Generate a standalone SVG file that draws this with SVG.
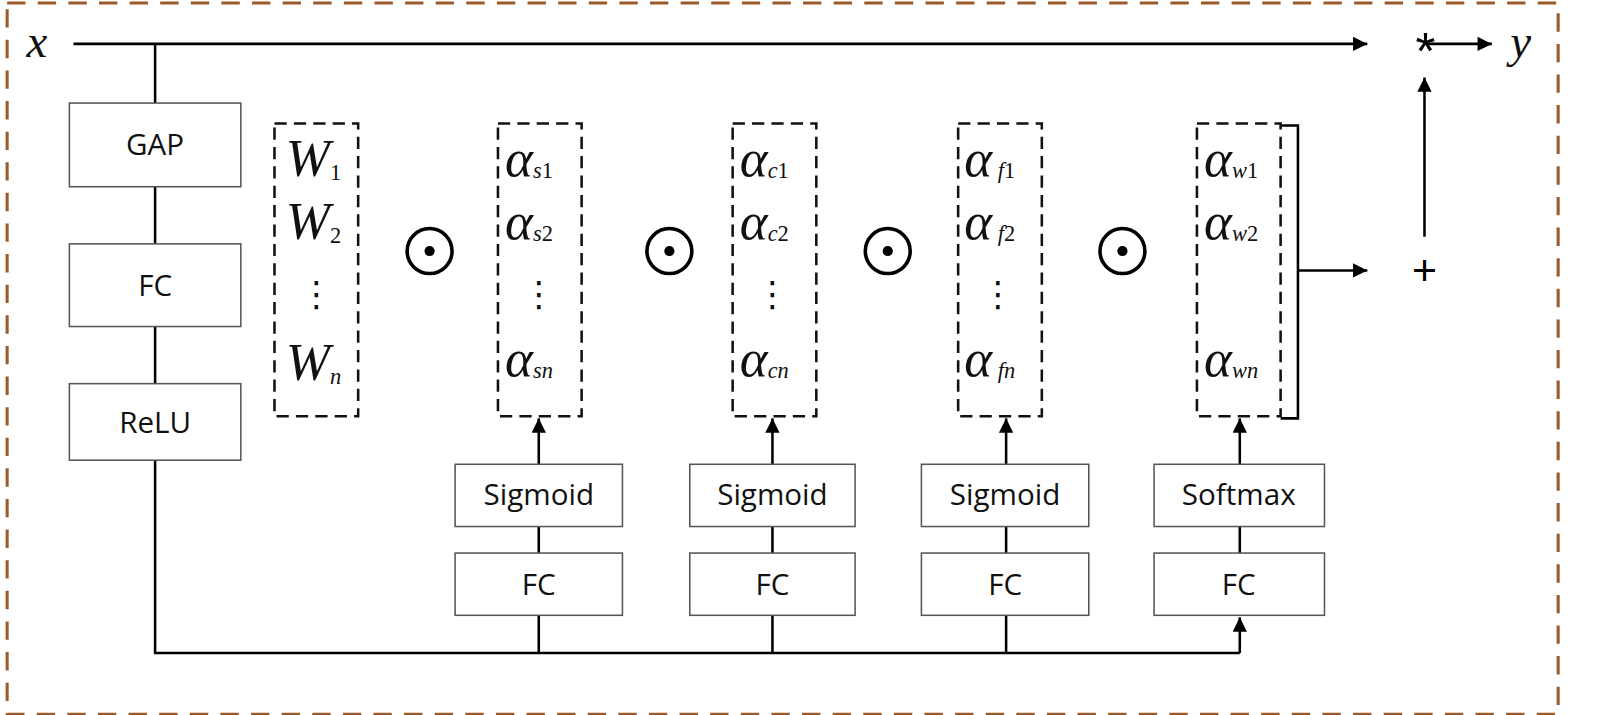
<svg xmlns="http://www.w3.org/2000/svg" width="1600" height="715" viewBox="0 0 1600 715">
<style>
.b{fill:#fff;stroke:#555;stroke-width:1.5}
.d{fill:none;stroke:#111;stroke-width:2.5;stroke-dasharray:12 7}
.l{fill:none;stroke:#000;stroke-width:2.5}
.t{font-family:"Open Sans","Liberation Sans",sans-serif;font-size:29px;text-anchor:middle;fill:#111}
.m{font-family:"Liberation Serif",serif;font-style:italic;fill:#111}
.a{font-size:52px}
.s{font-size:22px}
.n{font-style:normal}
.v{font-family:"DejaVu Sans",sans-serif;font-size:34px;text-anchor:middle;fill:#111}
.o{fill:none;stroke:#000;stroke-width:3.5}
</style>
<defs>
<marker id="ah" viewBox="0 0 10 10" markerWidth="18" markerHeight="14" refX="10" refY="5" orient="auto" markerUnits="userSpaceOnUse"><path d="M0,0 L10,5 L0,10 z" fill="#000"/></marker></defs>
<g transform="scale(1.0204)">
<rect x="7" y="3" width="1520" height="697" fill="none" stroke="#9c5a2a" stroke-width="3" stroke-dasharray="18 12"/>
<g id="connectors">
<path class="l" d="M72,43 H1340" marker-end="url(#ah)"/>
<path class="l" d="M1398,43 H1462" marker-end="url(#ah)"/>
<path class="l" d="M152,43 V101 M152,183 V239 M152,320 V376 M152,451 V640 H1215"/>
<path class="l" d="M1215,640 V605" marker-end="url(#ah)"/>
<path class="l" d="M528,640 V603 M757,640 V603 M986,640 V603"/>
<path class="l" d="M528,542 V516 M757,542 V516 M986,542 V516 M1215,542 V516"/>
<path class="l" d="M528,455 V410" marker-end="url(#ah)"/>
<path class="l" d="M757,455 V410" marker-end="url(#ah)"/>
<path class="l" d="M986,455 V410" marker-end="url(#ah)"/>
<path class="l" d="M1215,455 V410" marker-end="url(#ah)"/>
<path class="l" d="M1255,123 H1272 V410 H1255 M1272,265 H1340" marker-end="url(#ah)"/>
<path class="l" d="M1396,232 V76" marker-end="url(#ah)"/>
</g>
<g id="x"><text class="m" x="26" y="56" font-size="46">x</text></g>
<g id="y"><text class="m" x="1480" y="56" font-size="46">y</text></g>
<g id="mul"><text x="1397" y="68" font-family="Liberation Sans,sans-serif" font-size="50" text-anchor="middle">*</text></g>
<g id="plus"><text x="1396" y="279" font-family="Liberation Sans,sans-serif" font-size="42" text-anchor="middle">+</text></g>
<g id="gap"><rect class="b" x="68" y="101" width="168" height="82"/><text class="t" x="152" y="152">GAP</text></g>
<g id="fc0"><rect class="b" x="68" y="239" width="168" height="81"/><text class="t" x="152" y="290">FC</text></g>
<g id="relu"><rect class="b" x="68" y="376" width="168" height="75"/><text class="t" x="152" y="424">ReLU</text></g>
<g id="W"><rect class="d" x="269" y="121" width="82" height="287"/>
<text class="m a" x="280" y="172">W<tspan class="s n" dy="4">1</tspan></text>
<text class="m a" x="280" y="234">W<tspan class="s n" dy="4">2</tspan></text>
<text class="v" x="310" y="300">⋮</text>
<text class="m a" x="280" y="372">W<tspan class="s" dy="4">n</tspan></text></g>
<g id="odot1"><circle class="o" cx="421" cy="246" r="22"/><circle cx="421" cy="246" r="5"/></g>
<g id="odot2"><circle class="o" cx="656" cy="246" r="22"/><circle cx="656" cy="246" r="5"/></g>
<g id="odot3"><circle class="o" cx="870" cy="246" r="22"/><circle cx="870" cy="246" r="5"/></g>
<g id="odot4"><circle class="o" cx="1100" cy="246" r="22"/><circle cx="1100" cy="246" r="5"/></g>
<g id="as"><rect class="d" x="488" y="121" width="82" height="287"/>
<text class="m a" x="495" y="172">α<tspan class="s" dy="2">s</tspan><tspan class="s n">1</tspan></text>
<text class="m a" x="495" y="234">α<tspan class="s" dy="2">s</tspan><tspan class="s n">2</tspan></text>
<text class="v" x="528" y="300">⋮</text>
<text class="m a" x="495" y="368">α<tspan class="s" dy="2">sn</tspan></text></g>
<g id="ac"><rect class="d" x="718" y="121" width="82" height="287"/>
<text class="m a" x="725" y="172">α<tspan class="s" dy="2">c</tspan><tspan class="s n">1</tspan></text>
<text class="m a" x="725" y="234">α<tspan class="s" dy="2">c</tspan><tspan class="s n">2</tspan></text>
<text class="v" x="757" y="300">⋮</text>
<text class="m a" x="725" y="368">α<tspan class="s" dy="2">cn</tspan></text></g>
<g id="af"><rect class="d" x="939" y="121" width="82" height="287"/>
<text class="m a" x="945" y="172">α<tspan class="s" dy="2"> f</tspan><tspan class="s n">1</tspan></text>
<text class="m a" x="945" y="234">α<tspan class="s" dy="2"> f</tspan><tspan class="s n">2</tspan></text>
<text class="v" x="978" y="300">⋮</text>
<text class="m a" x="945" y="368">α<tspan class="s" dy="2"> fn</tspan></text></g>
<g id="aw"><rect class="d" x="1173" y="121" width="82" height="287"/>
<text class="m a" x="1180" y="172">α<tspan class="s" dy="2">w</tspan><tspan class="s n">1</tspan></text>
<text class="m a" x="1180" y="234">α<tspan class="s" dy="2">w</tspan><tspan class="s n">2</tspan></text>
<text class="m a" x="1180" y="368">α<tspan class="s" dy="2">wn</tspan></text></g>
<g id="sig1"><rect class="b" x="446" y="455" width="164" height="61"/><text class="t" x="528" y="495">Sigmoid</text></g>
<g id="sig2"><rect class="b" x="676" y="455" width="162" height="61"/><text class="t" x="757" y="495">Sigmoid</text></g>
<g id="sig3"><rect class="b" x="903" y="455" width="164" height="61"/><text class="t" x="985" y="495">Sigmoid</text></g>
<g id="soft"><rect class="b" x="1131" y="455" width="167" height="61"/><text class="t" x="1214" y="495">Softmax</text></g>
<g id="fc1"><rect class="b" x="446" y="542" width="164" height="61"/><text class="t" x="528" y="583">FC</text></g>
<g id="fc2"><rect class="b" x="676" y="542" width="162" height="61"/><text class="t" x="757" y="583">FC</text></g>
<g id="fc3"><rect class="b" x="903" y="542" width="164" height="61"/><text class="t" x="985" y="583">FC</text></g>
<g id="fc4"><rect class="b" x="1131" y="542" width="167" height="61"/><text class="t" x="1214" y="583">FC</text></g>
</g>
</svg>
